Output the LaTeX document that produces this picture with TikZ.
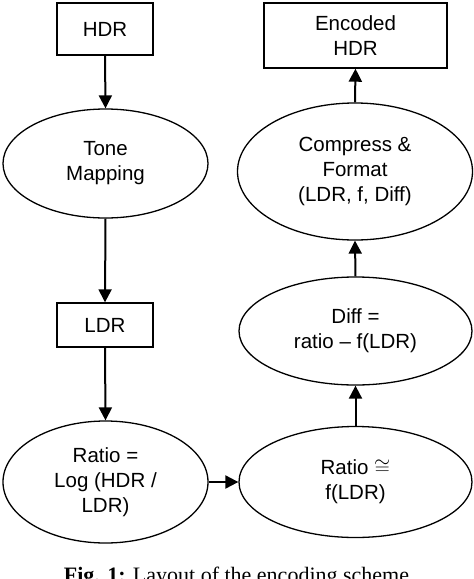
\documentclass[tikz,border=0pt]{standalone}
\usepackage{fontspec}
\setmainfont{Liberation Sans}
\newfontfamily\capfont{Liberation Serif}
\usetikzlibrary{shapes.geometric,arrows.meta}
\begin{document}
\begin{tikzpicture}[x=1pt,y=-1pt,
  every node/.style={font=\fontsize{20.5}{25}\selectfont, align=center, inner sep=0pt, text=black},
  boxnode/.style={draw, rectangle, line width=1.4pt},
  ellnode/.style={draw, ellipse, line width=1.3pt},
  flow/.style={line width=2pt, -{Triangle[length=13pt,width=13pt]}}
]
\useasboundingbox (0,0) rectangle (474,579);
\node[boxnode, minimum width=96pt, minimum height=52pt] (hdr) at (105,29) {HDR};
\node[ellnode, minimum width=205pt, minimum height=109pt] (tone) at (105.5,163.5) {Tone\\Mapping};
\node[boxnode, minimum width=96pt, minimum height=44pt] (ldr) at (105,325) {LDR};
\node[ellnode, minimum width=205pt, minimum height=122pt] (ratio) at (105.5,482) {Ratio =\\Log (HDR /\\LDR)};
\node[ellnode, minimum width=233pt, minimum height=111pt] (approx) at (355.5,482) {Ratio \raisebox{1pt}{\ensuremath{\cong}}\\f(LDR)};
\node[ellnode, minimum width=233pt, minimum height=108pt] (diff) at (355.5,331) {Diff =\\ratio -- f(LDR)};
\node[ellnode, minimum width=235pt, minimum height=137pt] (comp) at (355,171.5) {Compress \&\\Format\\(LDR, f, Diff)};
\node[boxnode, minimum width=183pt, minimum height=65pt] (enc) at (355.5,35.5) {Encoded\\HDR};
\draw[flow] (hdr.south) -- (tone.north);
\draw[flow] (tone.south) -- (ldr.north);
\draw[flow] (ldr.south) -- (ratio.north);
\draw[flow] (ratio.east) -- (approx.west);
\draw[flow] (approx.north) -- (diff.south);
\draw[flow] (diff.north) -- (comp.south);
\draw[flow] (comp.north) -- (enc.south);
\node[font=\capfont\fontsize{22}{26}\selectfont, anchor=base] (cap) at (236.5,582.6) {\textbf{Fig. 1:} Layout of the encoding scheme};
\end{tikzpicture}
\end{document}
